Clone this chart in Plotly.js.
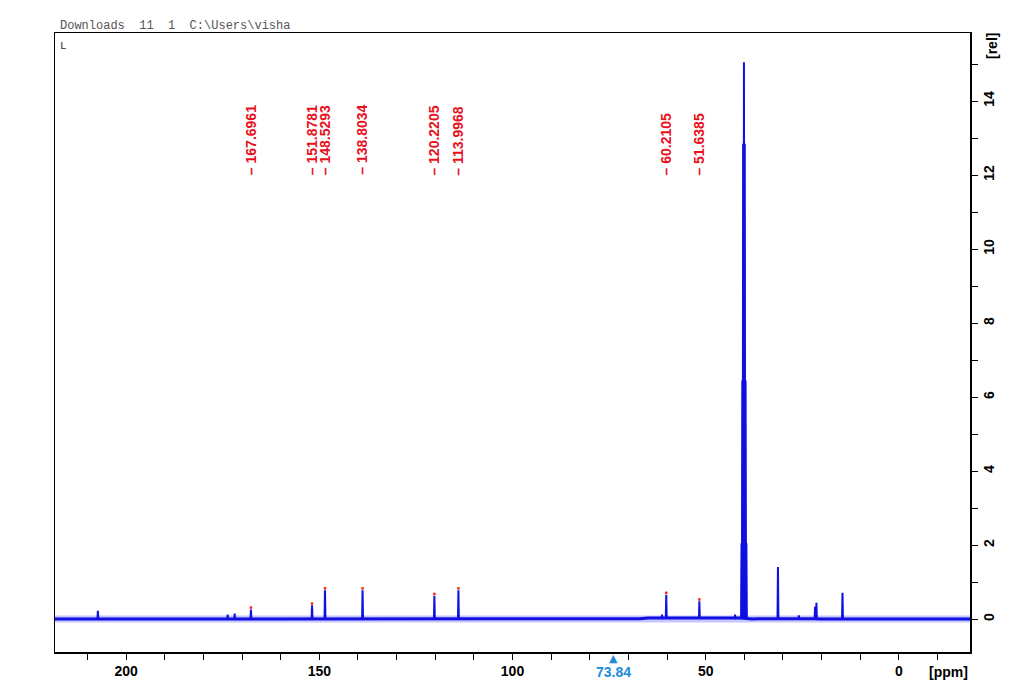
<!DOCTYPE html>
<html>
<head>
<meta charset="utf-8">
<script src="https://cdn.plot.ly/plotly-3.0.1.min.js"></script>
<style>
html,body{margin:0;padding:0;background:#fff;}
#chart{width:1017px;height:693px;}
</style>
</head>
<body>
<div id="chart"></div>
<script>
// ---- data ----
// labelled peaks (ppm) and their heights (rel)
const labelPpm = [167.6961, 151.8781, 148.5293, 138.8034, 120.2205, 113.9968, 60.2105, 51.6385];
const labelHeight = [0.26, 0.37, 0.78, 0.78, 0.63, 0.78, 0.66, 0.48];
// other lines (solvent septet, impurities)
const otherPpm = [207.3, 173.7, 171.9, 61.3, 42.4, 40.73, 40.52, 40.31, 40.10, 39.89, 39.68, 39.47, 31.3, 25.9, 21.7, 21.35, 14.6];
const otherHeight = [0.22, 0.12, 0.15, 0.12, 0.12, 2.05, 6.45, 12.85, 15.05, 12.85, 6.45, 2.05, 1.41, 0.1, 0.33, 0.44, 0.71];
// baseline (slightly raised hump near 60-66 ppm)
const basePpm = [218.4, 175, 170, 67, 65, 61, 58, 44, 41, 38, 36, 22, 20, -18.4];
const baseInt = [0.0, 0.0, 0.01, 0.01, 0.03, 0.03, 0.01, 0.01, 0.03, 0.0, 0.01, 0.01, 0.0, 0.0];
// axis ticks
const xTickVals = [200, 150, 100, 50, 0];
const yTickVals = [0, 2, 4, 6, 8, 10, 12, 14];
const markerPpm = 73.84;
const headerText = "Downloads\u00a0\u00a011\u00a0\u00a01\u00a0\u00a0C:\\Users\\visha";

// ---- build stick spectrum ----
const allPpm = labelPpm.concat(otherPpm);
const allH = labelHeight.concat(otherHeight);
const order = allPpm.map((p, i) => i).sort((a, b) => allPpm[b] - allPpm[a]);
const hw = 0.12;
const sx = [], sy = [];
order.forEach(i => {
  sx.push(allPpm[i] + hw, allPpm[i], allPpm[i] - hw, null);
  sy.push(0, allH[i], 0, null);
});

const blue = '#1010e0';
const traces = [
  {x: basePpm, y: baseInt, mode: 'lines', line: {color: 'rgba(90,90,255,0.35)', width: 7}, hoverinfo: 'skip', showlegend: false},
  {x: basePpm, y: baseInt, mode: 'lines', line: {color: blue, width: 3}, hoverinfo: 'skip', showlegend: false},
  {x: sx, y: sy, mode: 'lines', line: {color: blue, width: 2}, connectgaps: false, hoverinfo: 'skip', showlegend: false},
  {x: labelPpm, y: labelHeight.map(h => h + 0.05), mode: 'markers', marker: {color: '#ff2020', size: 2.5, symbol: 'square'}, hoverinfo: 'skip', showlegend: false}
];

const boldFont = {family: 'Liberation Sans, Arial, sans-serif', size: 14, color: '#000', weight: 'bold'};
const annotations = [];
labelPpm.forEach(p => {
  annotations.push({
    x: p, xref: 'x', y: 0.767, yref: 'paper', yanchor: 'bottom', xanchor: 'center',
    text: '\u2013 ' + p.toFixed(4), textangle: -90, showarrow: false,
    font: {family: 'Liberation Sans, Arial, sans-serif', size: 14, color: '#e8101c', weight: 'bold'}
  });
});
annotations.push({x: 0, xref: 'paper', y: 1, yref: 'paper', xanchor: 'left', yanchor: 'bottom', xshift: 3, yshift: -2,
  text: headerText, showarrow: false, font: {family: 'Liberation Mono, Courier New, monospace', size: 12, color: '#555'}});
annotations.push({x: 0, xref: 'paper', y: 1, yref: 'paper', xanchor: 'left', yanchor: 'top', xshift: 3, yshift: -5,
  text: 'L', showarrow: false, font: {family: 'Liberation Mono, Courier New, monospace', size: 11, color: '#333'}});
annotations.push({x: 1, xref: 'paper', y: 1, yref: 'paper', xanchor: 'left', yanchor: 'top', xshift: 12, yshift: 2,
  text: '[rel]', textangle: -90, showarrow: false, font: boldFont});
annotations.push({x: 1, xref: 'paper', y: 0, yref: 'paper', xanchor: 'right', yanchor: 'top', yshift: -10,
  text: '[ppm]', showarrow: false, font: boldFont});
annotations.push({x: markerPpm, xref: 'x', y: 0, yref: 'paper', xanchor: 'center', yanchor: 'top', yshift: -10,
  text: markerPpm.toFixed(2), showarrow: false, font: {family: 'Liberation Sans, Arial, sans-serif', size: 14, color: '#1a8cdc', weight: 'bold'}});
annotations.push({x: markerPpm, xref: 'x', y: 0, yref: 'paper', xanchor: 'center', yanchor: 'top', yshift: 2,
  text: '\u25B2', showarrow: false, font: {family: 'DejaVu Sans, sans-serif', size: 11, color: '#1a8cdc'}});

const layout = {
  width: 1017, height: 693,
  margin: {l: 55, r: 47, t: 33, b: 41},
  paper_bgcolor: '#fff', plot_bgcolor: '#fff',
  showlegend: false,
  xaxis: {
    range: [218.4, -18.4], showgrid: false, zeroline: false,
    showline: true, linecolor: '#000', linewidth: 1.5, mirror: true,
    ticks: 'outside', ticklen: 6, tickwidth: 1, tickcolor: '#000',
    tickvals: xTickVals, ticktext: xTickVals.map(String),
    minor: {dtick: 10, ticks: 'outside', ticklen: 6, tickwidth: 1, tickcolor: '#000', showgrid: false},
    tickfont: boldFont
  },
  yaxis: {
    range: [-0.89, 15.84], side: 'right', showgrid: false, zeroline: false,
    showline: true, linecolor: '#000', linewidth: 1.5, mirror: true,
    ticks: 'outside', ticklen: 6, tickwidth: 1, tickcolor: '#000',
    tickvals: yTickVals, ticktext: yTickVals.map(String), tickangle: -90,
    minor: {dtick: 1, ticks: 'outside', ticklen: 6, tickwidth: 1, tickcolor: '#000', showgrid: false},
    tickfont: boldFont
  },
  annotations: annotations
};

Plotly.newPlot('chart', traces, layout, {staticPlot: true, displayModeBar: false});
</script>
</body>
</html>
